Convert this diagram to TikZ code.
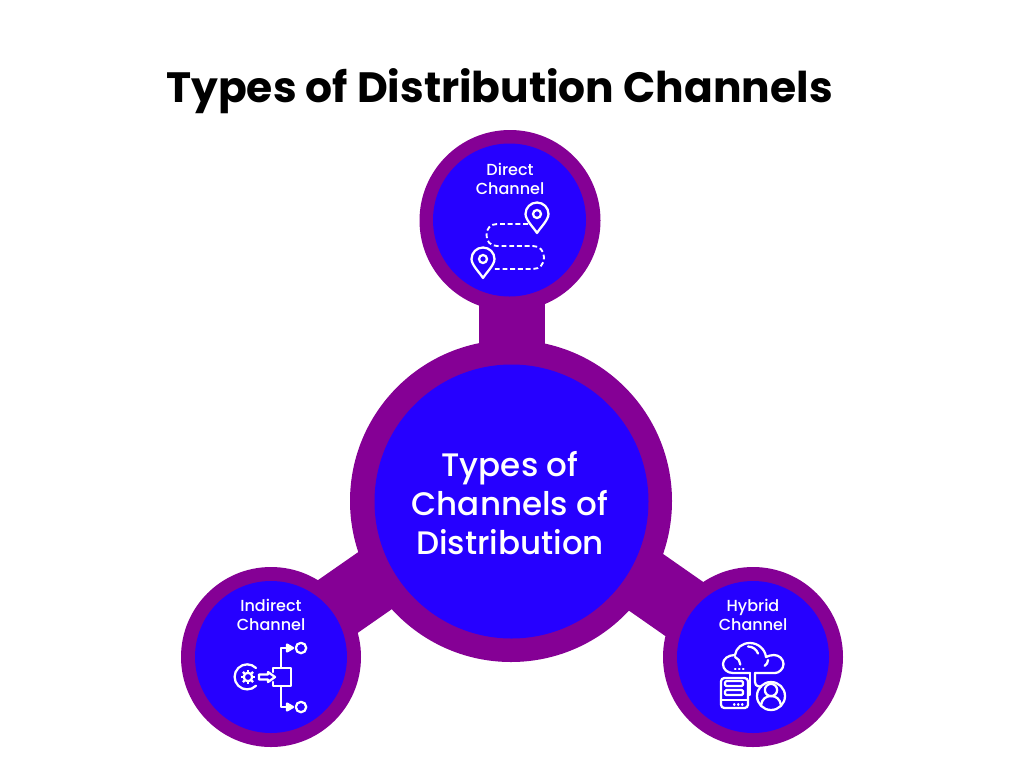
\documentclass[tikz,border=0pt]{standalone}
\usepackage{fontspec}
\setmainfont{Poppins}
\newfontfamily\medfont{Poppins Medium}
\definecolor{ringc}{HTML}{850095}
\definecolor{discc}{HTML}{2600FF}
\tikzset{
  x=0.75pt,y=-0.75pt,
  ring/.style={circle,fill=ringc,inner sep=0pt,minimum size=#1*0.75pt},
  disc/.style={circle,fill=discc,inner sep=0pt,minimum size=#1*0.75pt,text=white},
  link/.style={draw=ringc,line width=49.5pt},
  lbl/.style={text=white,align=center,font=\medfont\fontsize{12pt}{14.2pt}\selectfont,inner sep=0pt},
  ico/.style={draw=white,line width=1.7pt,line join=round,line cap=round},
  dashline/.style={draw=white,line width=1.4pt,dash pattern=on 3.6pt off 2.2pt}
}
\begin{document}
\begin{tikzpicture}
\useasboundingbox[fill=white] (0,0) rectangle (1024,768);
\node[font=\fontsize{31.8pt}{36pt}\selectfont\bfseries,inner sep=0pt] (title) at (499.5,91) {Types of Distribution Channels};
% link anchors
\coordinate (cC) at (511,501);
\coordinate (tC) at (512,220);
\coordinate (tB) at (512,501);
\coordinate (lC) at (271,653);
\coordinate (lB) at (511,486);
\coordinate (rC) at (753,657);
\coordinate (rB) at (511,488);
\draw[link] (tB) -- (tC);
\draw[link] (lB) -- (lC);
\draw[link] (rB) -- (rC);
% rings
\node[ring=322] (cR) at (cC) {};
\node[ring=181] (tR) at (510,220.5) {};
\node[ring=180] (lR) at (271,657) {};
\node[ring=180] (rR) at (753,657) {};
% discs
\node[disc=274] (cD) at (511.5,501.5) {};
\node[disc=153] (tD) at (509.5,220) {};
\node[disc=152] (lD) at (271,657) {};
\node[disc=152] (rD) at (753,657) {};
% labels
\node[text=white,align=center,inner sep=0pt,font=\medfont\fontsize{24.4pt}{29.3pt}\selectfont] (cT) at (510,503) {Types of\\Channels of\\Distribution};
\node[lbl] (tT) at (510,179) {Direct\\Channel};
\node[lbl] (lT) at (271,615) {Indirect\\Channel};
\node[lbl] (rT) at (753,615) {Hybrid\\Channel};
% direct icon
\draw[dashline] (528,224) -- (497,224) .. controls (490,224) and (486.5,229) .. (486.5,235) .. controls (486.5,241) and (490,246) .. (497,246) -- (533,246) .. controls (540,246) and (544,251) .. (544,257.5) .. controls (544,264) and (540,269) .. (533,269) -- (494,269);
\foreach \px/\py in {537/214,483/259}{
  \draw[ico,fill=discc] (\px,\py+19) .. controls (\px-3,\py+14) and (\px-11.5,\py+6) .. (\px-11.5,\py) arc[start angle=180,end angle=0,radius=8.625pt] .. controls (\px+11.5,\py+6) and (\px+3,\py+14) .. (\px,\py+19) -- cycle;
  \draw[ico] (\px,\py) circle[radius=3pt];
}
% indirect icon
\draw[ico] (256,668) arc[start angle=45,end angle=315,radius=9.4pt];
\draw[ico] (248,677) circle[radius=3.2pt];
\foreach \a in {0,45,...,315}{\draw[ico,line width=1.8pt,line cap=butt] (248,677) ++(\a:3.2pt) -- ++(\a:2.2pt);}
\draw[ico] (259,674.5) -- (268,674.5) -- (268,672) -- (275,677) -- (268,682) -- (268,679.5) -- (259,679.5) -- cycle;
\draw[ico] (273,672) -- (273,668) -- (291,668) -- (291,686) -- (273,686) -- (273,682);
\draw[ico] (281,668) -- (281,648) -- (287,648);
\draw[ico] (281,686) -- (281,707) -- (287,707);
\draw[ico,fill=white] (287,644.5) -- (293,648) -- (287,651.5) -- cycle;
\draw[ico,fill=white] (287,703.5) -- (293,707) -- (287,710.5) -- cycle;
\draw[ico] (301,648) circle[radius=3.9pt];
\draw[ico] (301,707) circle[radius=3.9pt];
% hybrid icon
\draw[ico] (750,673) -- (733,673) .. controls (727,673) and (723,669) .. (723,664) .. controls (723,659) and (728,655) .. (735,655) .. controls (736,648) and (742,643) .. (750,643) .. controls (758,643) and (765,649) .. (766,657) .. controls (768,656) and (771,655) .. (774,655) .. controls (779,655) and (783.5,659) .. (783.5,664) .. controls (783.5,669) and (779,673) .. (775,673) -- (755,673);
\draw[ico] (735,657) arc[start angle=70,end angle=0,radius=6pt];
\draw[ico] (748,646.5) arc[start angle=90,end angle=20,radius=8pt];
\draw[ico] (768,660) arc[start angle=0,end angle=-60,radius=5pt];
\foreach \d in {735,739,743}{\draw[ico] (\d,669) -- (\d+.5,669);\draw[ico] (\d-1,704.5) -- (\d-.5,704.5);}
\draw[ico,rounded corners=2.5pt] (721,678) rectangle (748,708);
\draw[ico] (721,700) -- (748,700);
\draw[ico,rounded corners=1pt] (725,681) rectangle (743,686);
\draw[ico,rounded corners=1pt] (725,690) rectangle (743,695);
\draw[ico] (750,673) -- (750,695) -- (748,695);
\draw[ico] (755,673) -- (755,682) .. controls (755,687) and (760,686) .. (761,687);
\draw[ico] (771,696) circle[radius=10.5pt];
\draw[ico] (771,690) circle[radius=4.6pt];
\draw[ico] (761,705) .. controls (762,699) and (766,696) .. (771,696) .. controls (776,696) and (780,699) .. (781,705);
\end{tikzpicture}
\end{document}
